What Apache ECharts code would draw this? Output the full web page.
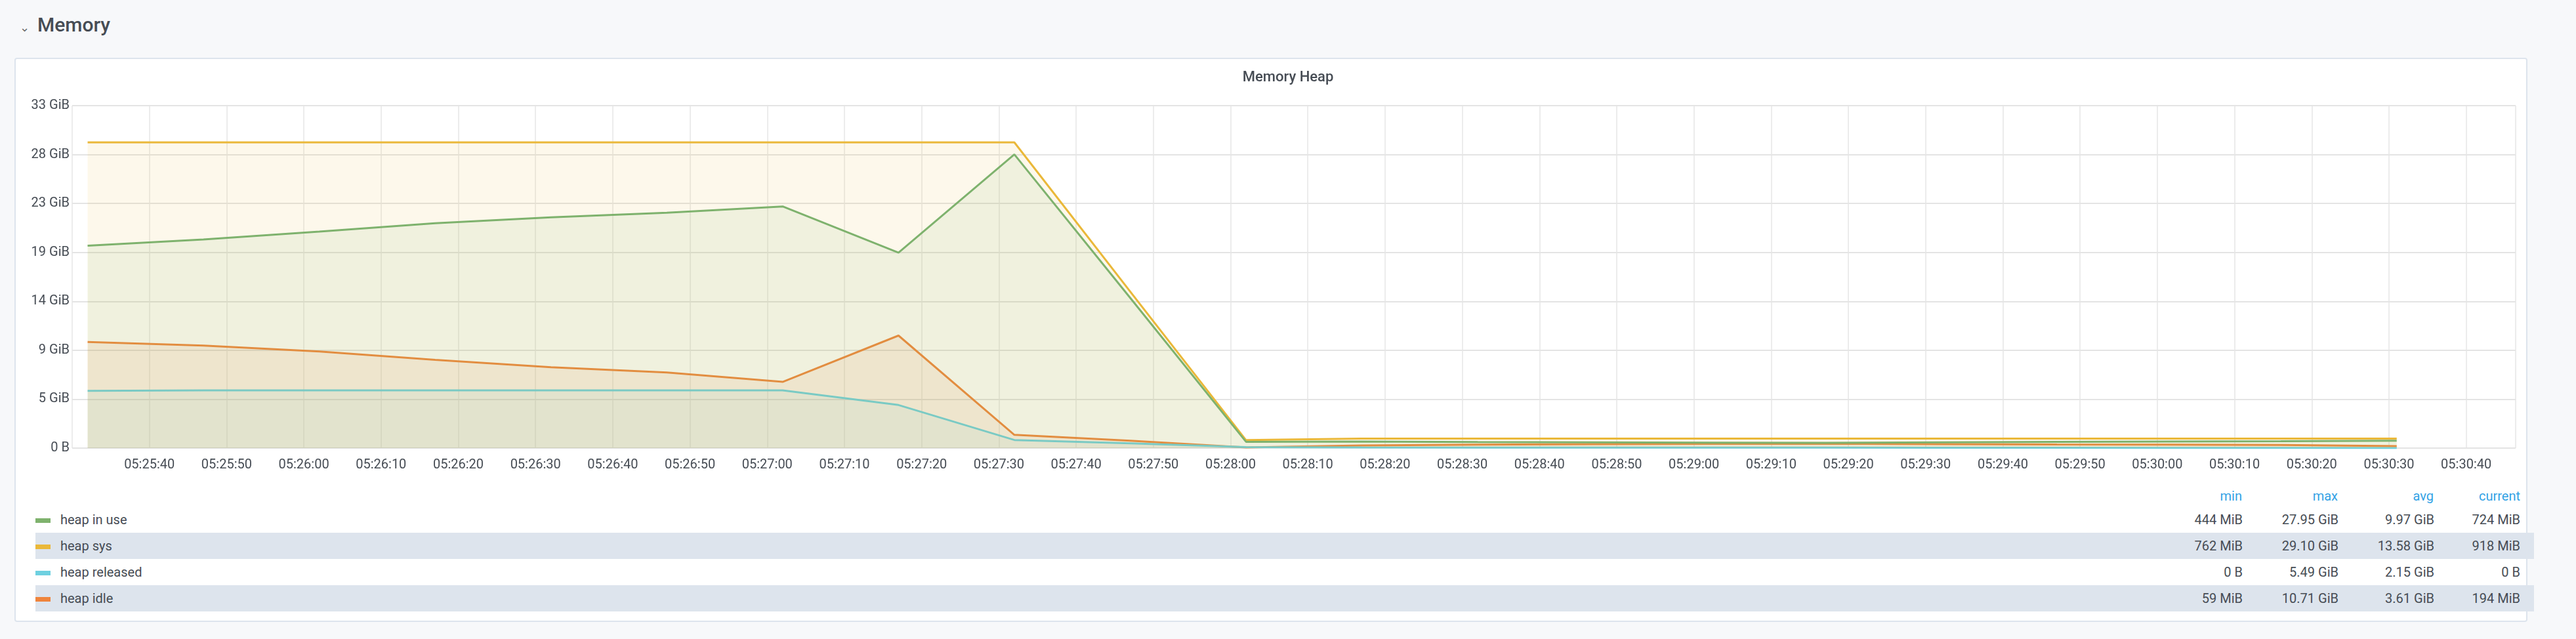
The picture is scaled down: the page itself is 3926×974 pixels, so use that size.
<!DOCTYPE html>
<html>
<head>
<meta charset="utf-8">
<script src="https://cdn.jsdelivr.net/npm/echarts@6/dist/echarts.min.js"></script>
<style>
  body { margin: 0; background: #f7f8fa; font-family: Roboto, "Noto Sans", sans-serif; width: 3926px; height: 974px; position: relative; overflow: hidden; }
  #header { position: absolute; left: 30px; top: 20px; font-size: 30px; font-weight: 500; color: #464c54; }
  #header span { font-size: 18px; margin-right: 12px; color: #666; }
  #panel { position: absolute; left: 22px; top: 88px; width: 3826px; height: 856px; background: #fff; border: 2px solid #dde4ed; border-radius: 4px; }
  #chart-mem { position: absolute; left: 0; top: 0; width: 3926px; height: 720px; }
  #legend { position: absolute; left: 54px; top: 740px; width: 3808px; font-size: 20px; color: #464c54; border-collapse: collapse; }
  #legend td { height: 40px; padding: 0; }
  #legend th { height: 30px; color: #33a2e5; font-weight: normal; text-align: right; }
  #legend td.v { text-align: right; width: 146px; }
  #legend td.v.last { width: 131px; padding-right: 21px; }
  #legend tr.alt td { background: #dde4ed; }
  .sw { display: inline-block; width: 23px; height: 7px; margin-right: 15px; vertical-align: middle; }
</style>
</head>
<body>
<div id="header"><span>&#8964;</span>Memory</div>
<div id="panel"></div>
<div id="chart-mem"></div>
<table id="legend"></table>
<script>
// 时间点 (05:25:30 起的秒数由 times 换算)
var times = ['05:25:32', '05:25:47', '05:26:02', '05:26:17', '05:26:32', '05:26:47', '05:27:02',
  '05:27:17', '05:27:32', '05:27:47', '05:28:02', '05:28:17', '05:28:32', '05:28:47', '05:29:02',
  '05:29:17', '05:29:32', '05:29:47', '05:30:01', '05:30:16', '05:30:31'];
// GiB
var heapInUse = [19.26, 19.85, 20.6, 21.4, 21.96, 22.4, 23.0, 18.6, 27.95, 14.3, 0.6,
  0.62, 0.58, 0.55, 0.52, 0.5, 0.55, 0.6, 0.62, 0.65, 0.71];
var heapSys = [29.1, 29.1, 29.1, 29.1, 29.1, 29.1, 29.1, 29.1, 29.1, 14.9, 0.76,
  0.9, 0.9, 0.9, 0.9, 0.9, 0.9, 0.9, 0.9, 0.9, 0.9];
var heapReleased = [5.45, 5.49, 5.49, 5.49, 5.49, 5.49, 5.49, 4.1, 0.77, 0.45, 0.1,
  0.06, 0.05, 0.05, 0.04, 0.04, 0.03, 0.03, 0.02, 0.02, 0];
var heapIdle = [10.1, 9.75, 9.2, 8.4, 7.7, 7.2, 6.3, 10.71, 1.26, 0.7, 0.06,
  0.25, 0.33, 0.38, 0.4, 0.42, 0.38, 0.35, 0.33, 0.3, 0.19];
var tickLabels = ['05:25:40', '05:25:50', '05:26:00', '05:26:10', '05:26:20', '05:26:30', '05:26:40', '05:26:50',
  '05:27:00', '05:27:10', '05:27:20', '05:27:30', '05:27:40', '05:27:50', '05:28:00', '05:28:10', '05:28:20',
  '05:28:30', '05:28:40', '05:28:50', '05:29:00', '05:29:10', '05:29:20', '05:29:30', '05:29:40', '05:29:50',
  '05:30:00', '05:30:10', '05:30:20', '05:30:30', '05:30:40'];
var legendRows = [
  ['heap in use', '444 MiB', '27.95 GiB', '9.97 GiB', '724 MiB'],
  ['heap sys', '762 MiB', '29.10 GiB', '13.58 GiB', '918 MiB'],
  ['heap released', '0 B', '5.49 GiB', '2.15 GiB', '0 B'],
  ['heap idle', '59 MiB', '10.71 GiB', '3.61 GiB', '194 MiB']
];
var colors = ['#7eb26d', '#eab839', '#6ed0e0', '#ef843c'];
var GIB = Math.pow(2, 30);

function toSec(t) {
  var p = t.split(':');
  return (+p[0] * 3600 + +p[1] * 60 + +p[2]) - (5 * 3600 + 25 * 60 + 30);
}
function pairs(vals) {
  return vals.map(function (v, i) { return [toSec(times[i]), v * GIB]; });
}

var mapChart = echarts.init(document.getElementById('chart-mem'));
var names = ['heap in use', 'heap sys', 'heap released', 'heap idle'];
var series = [heapInUse, heapSys, heapReleased, heapIdle].map(function (vals, i) {
  return {
    name: names[i],
    type: 'line',
    data: pairs(vals),
    showSymbol: false,
    lineStyle: { width: 3, color: colors[i] },
    itemStyle: { color: colors[i] },
    areaStyle: { color: colors[i], opacity: 0.1 },
    z: 10 - i
  };
});

mapChart.setOption({
  animation: false,
  textStyle: { fontFamily: 'Roboto' },
  title: {
    text: 'Memory Heap', left: 'center', top: 102,
    textStyle: { fontSize: 22, fontWeight: 500, color: '#464c54' }
  },
  grid: { left: 110, right: 92, top: 161, bottom: 37 },
  xAxis: {
    type: 'value', min: 0, max: 316.4, interval: 10,
    axisLine: { show: false }, axisTick: { show: false },
    splitLine: { show: true, lineStyle: { color: '#e6e6e6', width: 1.5 } },
    axisLabel: {
      fontSize: 20, color: '#464c54', margin: 16, showMinLabel: false,
      formatter: function (v) { return tickLabels[Math.round(v / 10) - 1] || ''; }
    }
  },
  yAxis: {
    type: 'value', min: 0, max: 35e9, interval: 5e9,
    axisLine: { show: false }, axisTick: { show: false },
    splitLine: { lineStyle: { color: '#e4e4e4', width: 2 } },
    axisLabel: {
      fontSize: 20, color: '#464c54', margin: 4,
      formatter: function (v) { return v === 0 ? '0 B' : Math.round(v / GIB) + ' GiB'; }
    }
  },
  series: series
});

// 图例表格
var html = '<tr><th></th><th>min</th><th>max</th><th>avg</th><th style="padding-right:21px">current</th></tr>';
legendRows.forEach(function (r, i) {
  html += '<tr class="' + (i % 2 ? 'alt' : '') + '"><td><span class="sw" style="background:' + colors[i] + '"></span>' + r[0] + '</td>' +
    '<td class="v">' + r[1] + '</td><td class="v">' + r[2] + '</td><td class="v">' + r[3] + '</td><td class="v last">' + r[4] + '</td></tr>';
});
document.getElementById('legend').innerHTML = html;
</script>
</body>
</html>
